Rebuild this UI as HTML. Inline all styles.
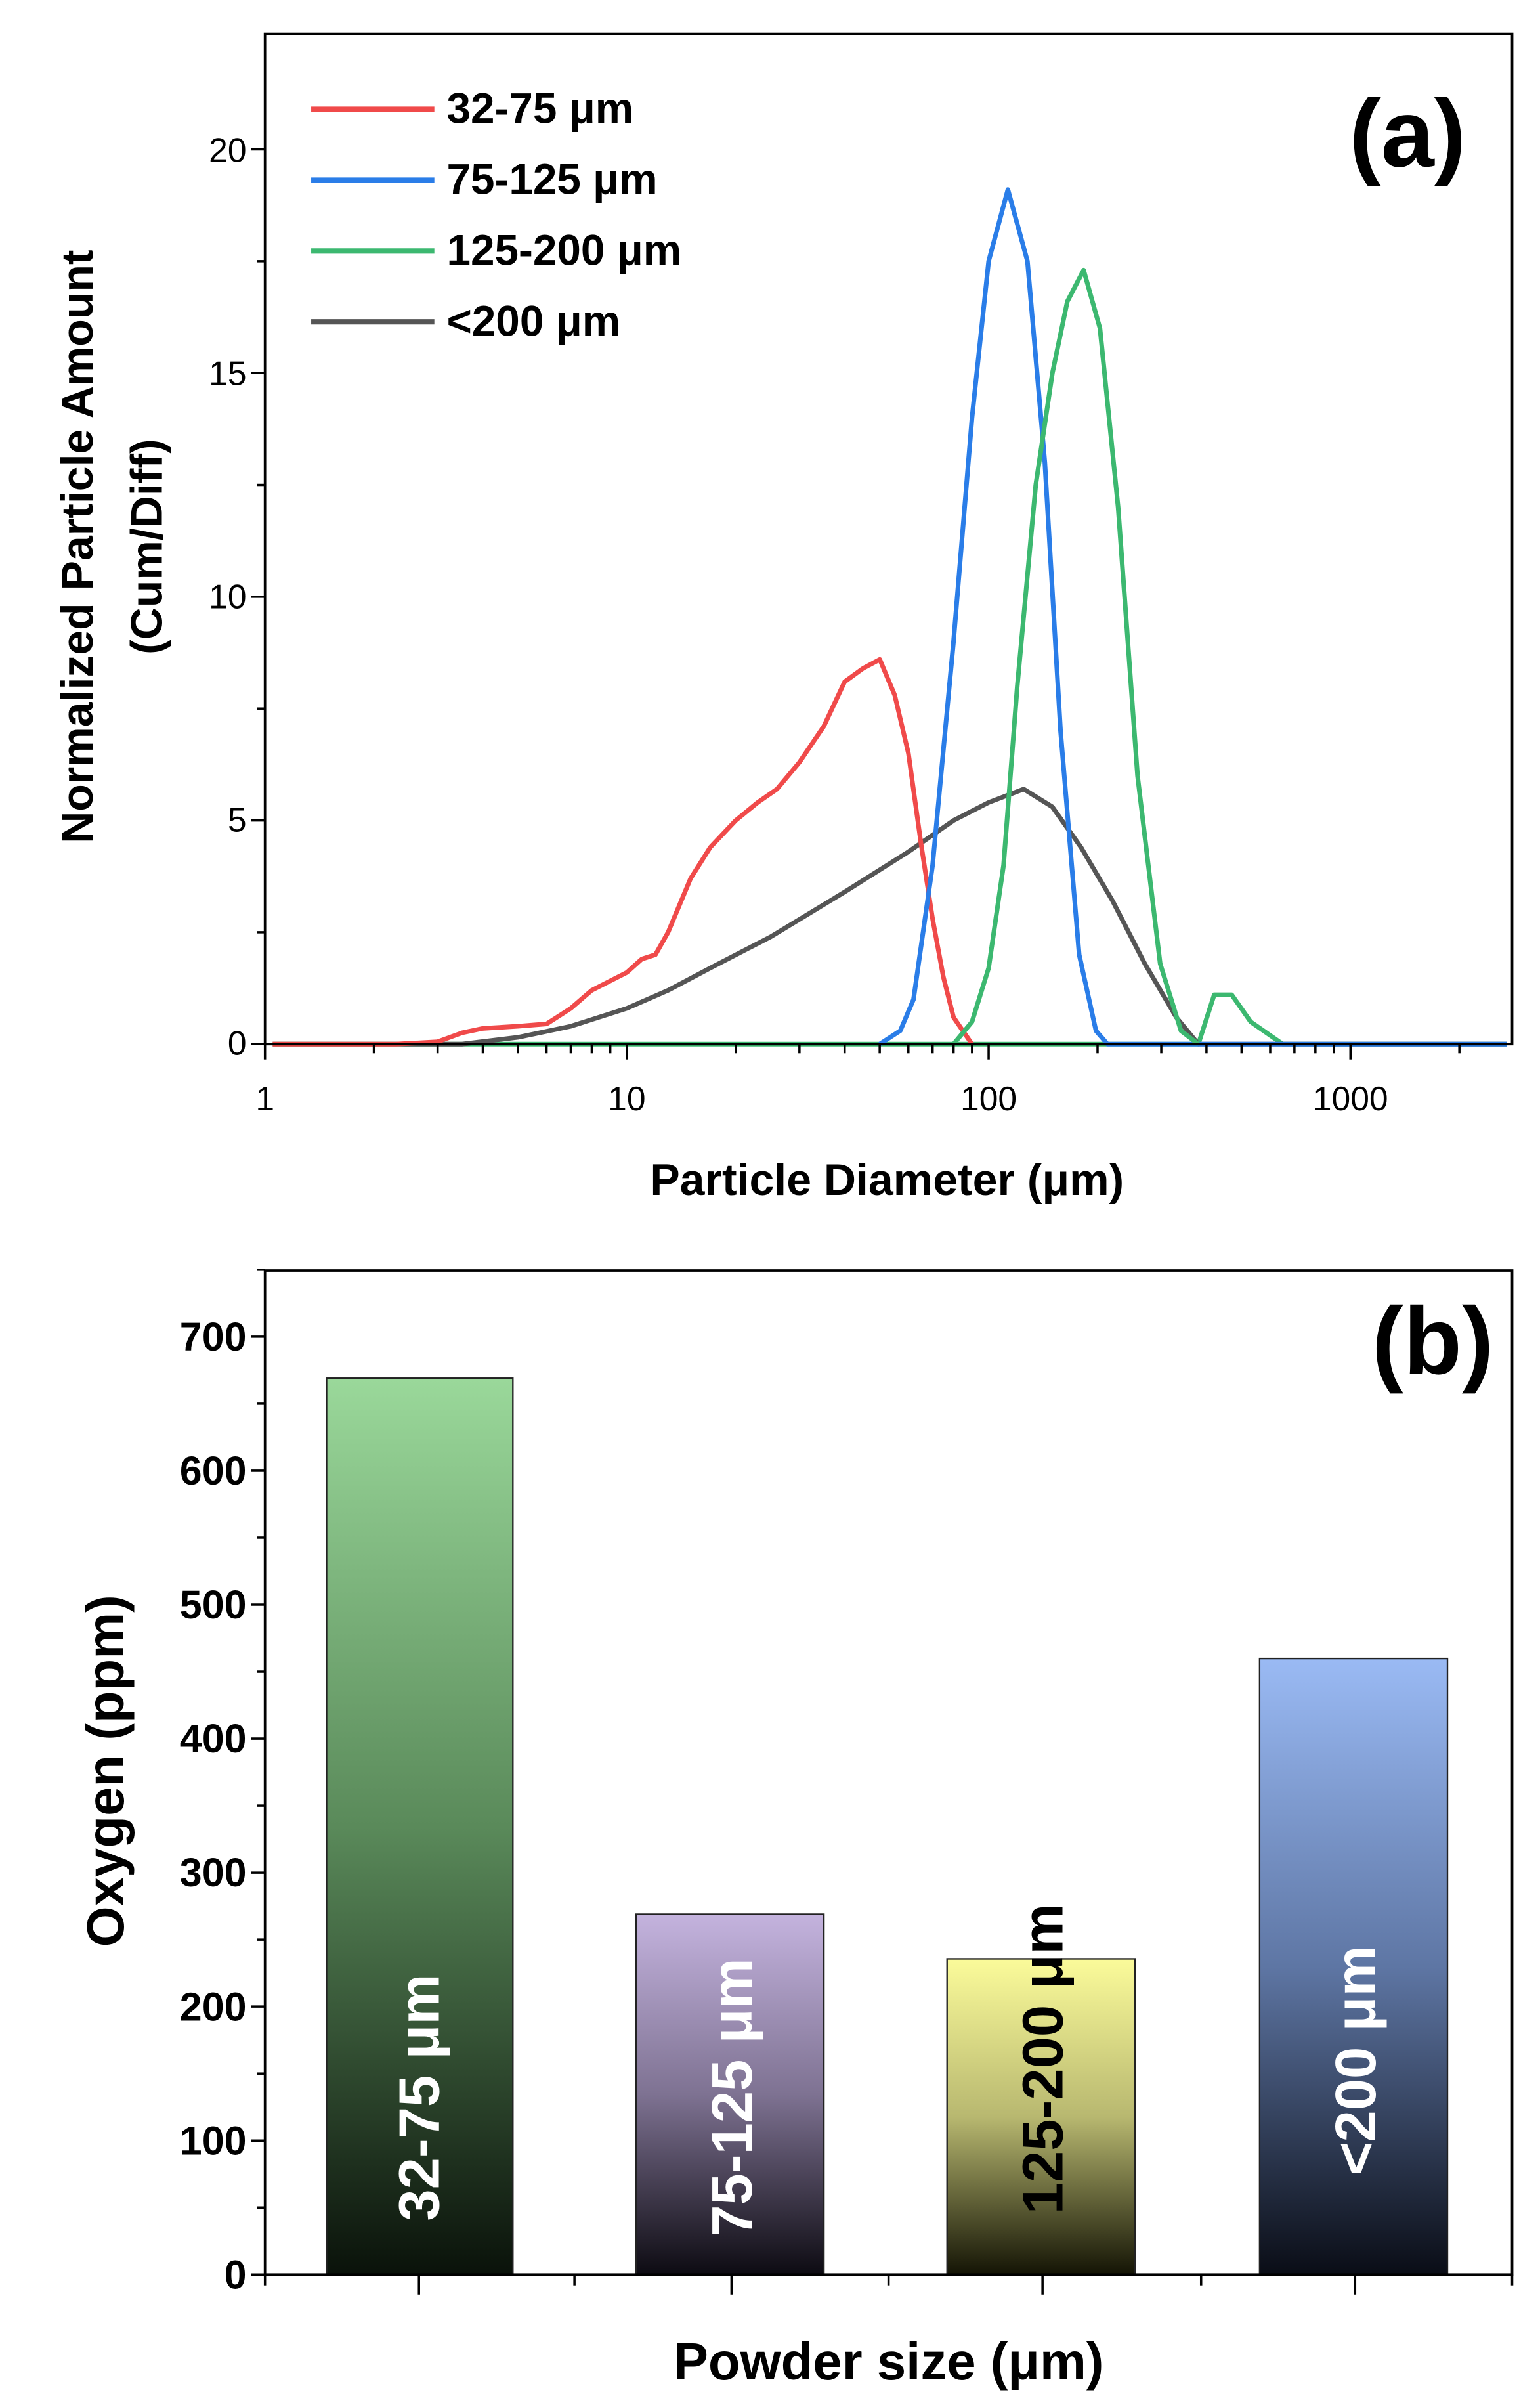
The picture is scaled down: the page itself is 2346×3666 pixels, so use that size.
<!DOCTYPE html>
<html><head><style>html,body{margin:0;padding:0;background:#fff}svg{display:block}</style></head>
<body>
<svg id="s" width="2346" height="3666" viewBox="0 0 1000 1563" xmlns="http://www.w3.org/2000/svg" font-family="Liberation Sans, Arial, sans-serif">
<defs>
<linearGradient id="g1" x1="0" y1="0" x2="0" y2="1"><stop offset="0" stop-color="#9ad89a"/><stop offset="0.5" stop-color="#5a8a5a"/><stop offset="1" stop-color="#0a120a"/></linearGradient>
<linearGradient id="g2" x1="0" y1="0" x2="0" y2="1"><stop offset="0" stop-color="#c4b3de"/><stop offset="0.5" stop-color="#7e7292"/><stop offset="1" stop-color="#0d0b12"/></linearGradient>
<linearGradient id="g3" x1="0" y1="0" x2="0" y2="1"><stop offset="0" stop-color="#fbfb9a"/><stop offset="0.5" stop-color="#b8b870"/><stop offset="1" stop-color="#141405"/></linearGradient>
<linearGradient id="g4" x1="0" y1="0" x2="0" y2="1"><stop offset="0" stop-color="#9abaf4"/><stop offset="0.5" stop-color="#5e76a4"/><stop offset="1" stop-color="#0a0d16"/></linearGradient>
</defs>
<g id="a"></g>
<rect x="172" y="22" width="810" height="656" fill="none" stroke="#000" stroke-width="1.6"/>
<g font-size="22" text-anchor="end" fill="#000">
<text x="160" y="685">0</text><text x="160" y="540">5</text><text x="160" y="395">10</text><text x="160" y="250">15</text><text x="160" y="105">20</text>
</g>
<g font-size="22" text-anchor="middle">
<text x="172" y="721">1</text><text x="407" y="721">10</text><text x="642" y="721">100</text><text x="877" y="721">1000</text>
</g>
<text x="576" y="776" font-size="29" font-weight="bold" text-anchor="middle">Particle Diameter (μm)</text>
<text transform="translate(60,355) rotate(-90)" font-size="29" font-weight="bold" text-anchor="middle">Normalized Particle Amount</text>
<text transform="translate(105,355) rotate(-90)" font-size="29" font-weight="bold" text-anchor="middle">(Cum/Diff)</text>
<text x="952" y="108" font-size="62" font-weight="bold" text-anchor="end">(a)</text>
<g font-size="28" font-weight="bold">
<line x1="202" y1="71" x2="282" y2="71" stroke="#f04a4a" stroke-width="3.5"/><text x="290" y="80">32-75 μm</text>
<line x1="202" y1="117" x2="282" y2="117" stroke="#2a7de8" stroke-width="3.5"/><text x="290" y="126">75-125 μm</text>
<line x1="202" y1="163" x2="282" y2="163" stroke="#3cb870" stroke-width="3.5"/><text x="290" y="172">125-200 μm</text>
<line x1="202" y1="209" x2="282" y2="209" stroke="#555" stroke-width="3.5"/><text x="290" y="218">&lt;200 μm</text>
</g>
<g id="ticks"></g>

<rect x="212" y="895" width="121" height="582" fill="url(#g1)" stroke="#222" stroke-width="1"/>
<rect x="413" y="1243" width="122" height="234" fill="url(#g2)" stroke="#222" stroke-width="1"/>
<rect x="615" y="1272" width="122" height="205" fill="url(#g3)" stroke="#222" stroke-width="1"/>
<rect x="818" y="1077" width="122" height="400" fill="url(#g4)" stroke="#222" stroke-width="1"/>
<rect x="172" y="825" width="810" height="652" fill="none" stroke="#000" stroke-width="1.6"/>
<g font-size="26" font-weight="bold" text-anchor="end">
<text x="160" y="1486">0</text><text x="160" y="1399">100</text><text x="160" y="1312">200</text><text x="160" y="1225">300</text><text x="160" y="1138">400</text><text x="160" y="1051">500</text><text x="160" y="964">600</text><text x="160" y="877">700</text>
</g>
<g font-size="37" font-weight="bold" text-anchor="middle">
<text transform="translate(285,1362) rotate(-90)" fill="#fff">32-75 μm</text>
<text transform="translate(488,1362) rotate(-90)" fill="#fff">75-125 μm</text>
<text transform="translate(690,1337) rotate(-90)" fill="#000">125-200 μm</text>
<text transform="translate(893,1338) rotate(-90)" fill="#fff">&lt;200 μm</text>
</g>
<text x="577" y="1545" font-size="34" font-weight="bold" text-anchor="middle">Powder size (μm)</text>
<text transform="translate(80,1150) rotate(-90)" font-size="34" font-weight="bold" text-anchor="middle">Oxygen (ppm)</text>
<text x="970" y="892" font-size="62" font-weight="bold" text-anchor="end">(b)</text>
</svg>
<script>
var NS="http://www.w3.org/2000/svg";
function X(d){return 172+235*Math.log10(d);}
function Y(v){return 678-29.05*v;}
function path(pts,col,g){var d="";pts.forEach(function(p,i){d+=(i?"L":"M")+X(p[0]).toFixed(1)+","+Y(p[1]).toFixed(1);});
var e=document.createElementNS(NS,"path");e.setAttribute("d",d);e.setAttribute("fill","none");e.setAttribute("stroke",col);e.setAttribute("stroke-width","3");e.setAttribute("stroke-linejoin","round");g.appendChild(e);}
var g=document.getElementById("a");
path([[1.05,0],[380,0],[420,1.1],[470,1.1],[530,0.5],[650,0],[2700,0]],"#3cb870",g);
path([[1.05,0],[3.5,0],[5,0.15],[7,0.4],[10,0.8],[13,1.2],[17,1.7],[25,2.4],[40,3.4],[60,4.3],[80,5],[100,5.4],[125,5.7],[150,5.3],[180,4.4],[220,3.2],[270,1.8],[330,0.6],[380,0],[2700,0]],"#555",g);
path([[1.05,0],[2.3,0],[3,0.05],[3.5,0.25],[4,0.35],[5,0.4],[6,0.45],[7,0.8],[8,1.2],[10,1.6],[11,1.9],[12,2.0],[13,2.5],[15,3.7],[17,4.4],[20,5],[23,5.4],[26,5.7],[30,6.3],[35,7.1],[40,8.1],[45,8.4],[50,8.6],[55,7.8],[60,6.5],[65,4.5],[70,2.8],[75,1.5],[80,0.6],[90,0]],"#f04a4a",g);
path([[50,0],[57,0.3],[62,1],[70,4],[80,9],[90,14],[100,17.5],[113,19.1],[128,17.5],[143,13],[158,7],[178,2],[198,0.3],[213,0],[2700,0]],"#2a7de8",g);
path([[80,0],[90,0.5],[100,1.7],[110,4],[120,8],[135,12.5],[150,15],[165,16.6],[183,17.3],[203,16],[228,12],[258,6],[298,1.8],[340,0.3],[380,0]],"#3cb870",g);
var t=document.getElementById("ticks");
function L(x1,y1,x2,y2){var e=document.createElementNS(NS,"line");e.setAttribute("x1",x1);e.setAttribute("y1",y1);e.setAttribute("x2",x2);e.setAttribute("y2",y2);e.setAttribute("stroke","#000");e.setAttribute("stroke-width","1.5");t.appendChild(e);}
for(var dec=0;dec<4;dec++)for(var k=1;k<10;k++){var v=Math.pow(10,dec)*k;if(v>2800)break;var x=X(v);L(x,678,x,678+(k==1?10:6));}
for(var v=0;v<=22;v+=2.5){var y=Y(v);L(172,y,172-(v%5==0?9:5),y);}
for(var v=0;v<=750;v+=50){var y=1477-0.87*v;L(172,y,172-(v%100==0?9:5),y);}
[272,475,677,880].forEach(function(x){L(x,1477,x,1490);});
[172,373,577,780,982].forEach(function(x){L(x,1477,x,1484);});
</script>
</body></html>
